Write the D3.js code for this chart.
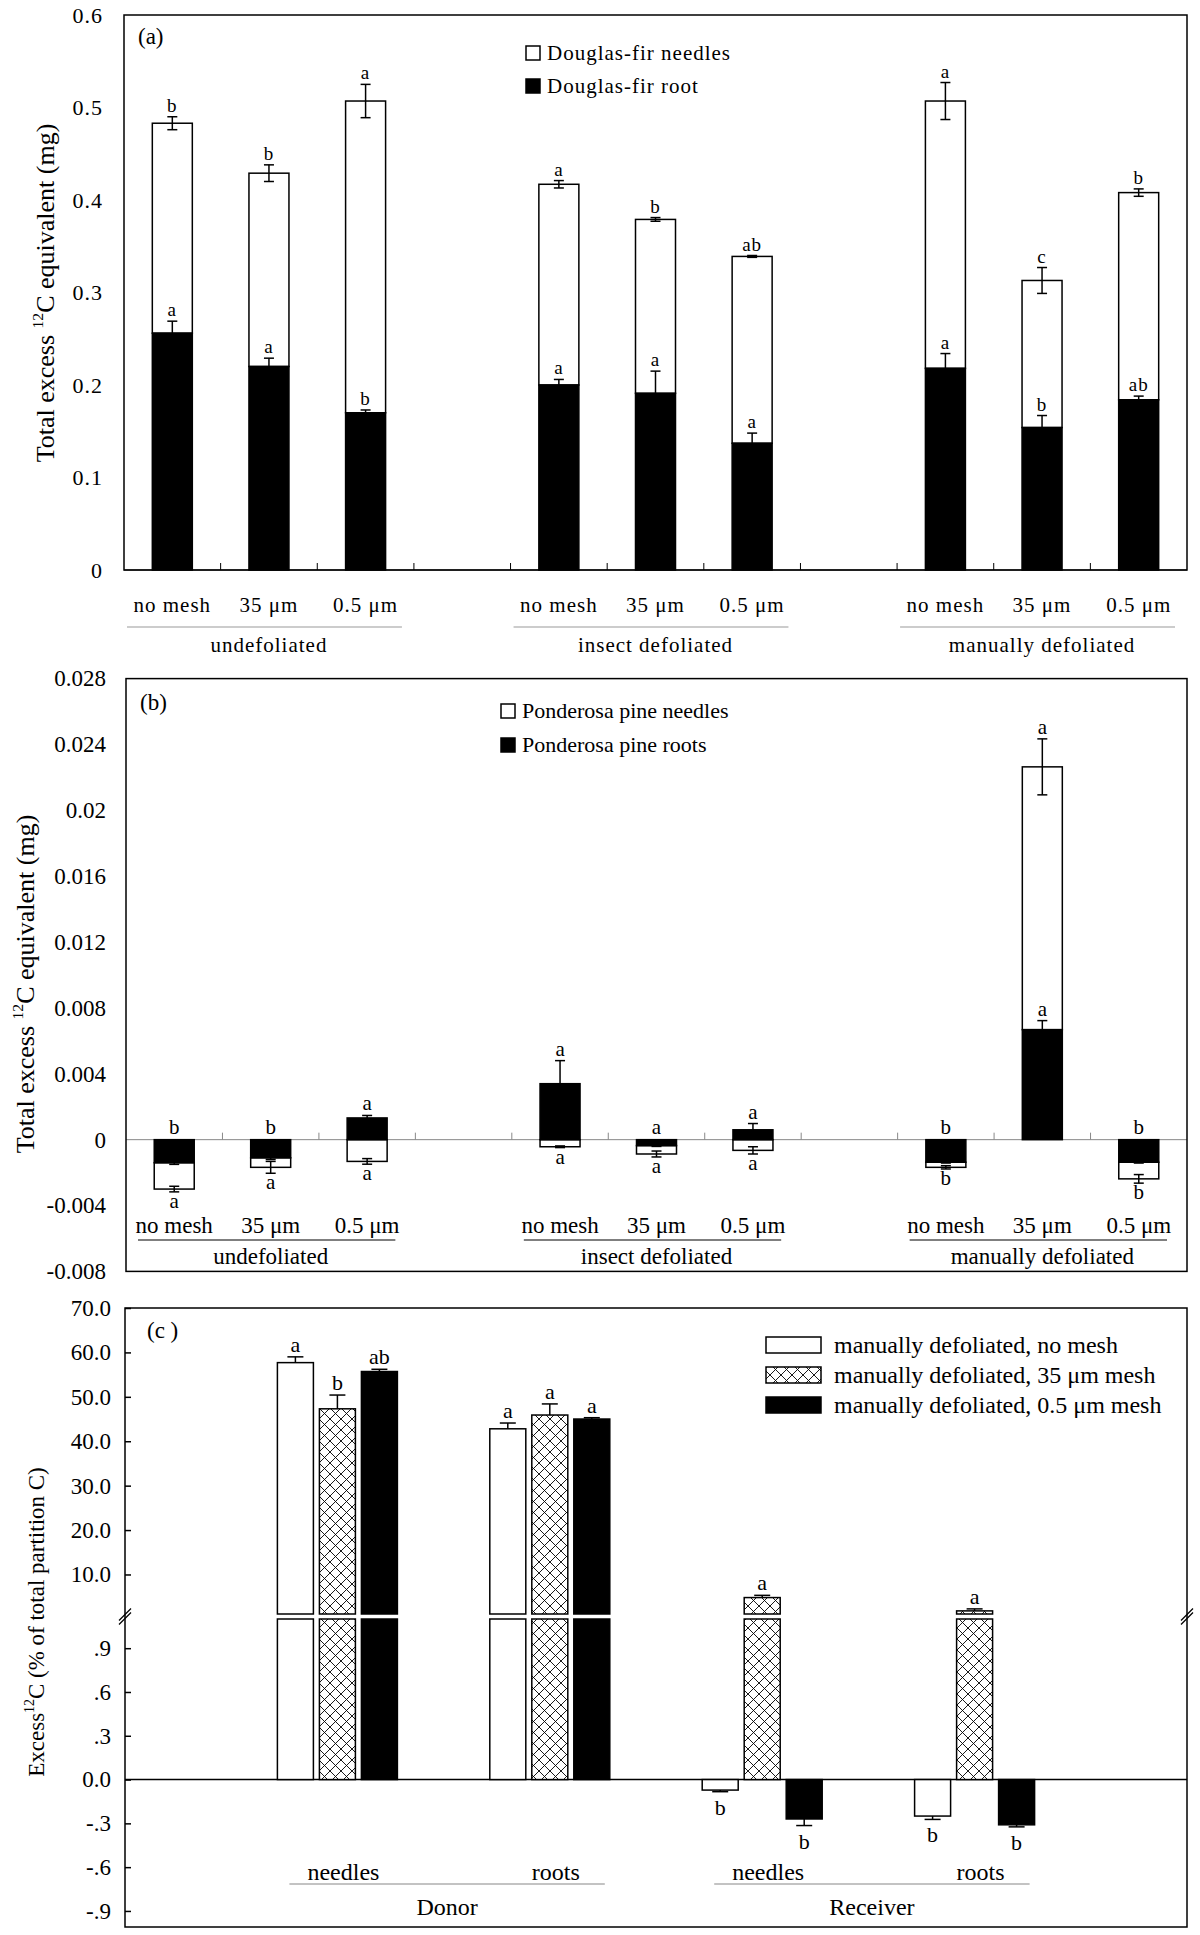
<!DOCTYPE html>
<html>
<head>
<meta charset="utf-8">
<script src="https://cdn.jsdelivr.net/npm/d3@7"></script>
<style>
body{margin:0;background:#fff;}
svg{display:block;}
text{font-family:"Liberation Serif","Times New Roman",serif;fill:#000;}
</style>
</head>
<body>
<div id="chart"></div>
<script>
// --- --- Data --- ---

var treatments = ["undefoliated", "insect defoliated", "manually defoliated"];
var meshes = ["no mesh", "35 μm", "0.5 μm"];

// (a) Douglas-fir, mg (9 bars: undefoliated x3, insect x3, manual x3)
var fir_root = [0.256, 0.220, 0.170, 0.200, 0.191, 0.137, 0.218, 0.154, 0.184];
var fir_root_err = [0.013, 0.009, 0.003, 0.006, 0.024, 0.011, 0.016, 0.013, 0.004];
var fir_needles = [0.227, 0.209, 0.337, 0.217, 0.188, 0.202, 0.289, 0.159, 0.224];
var fir_needles_err = [0.007, 0.009, 0.018, 0.004, 0.002, 0.001, 0.020, 0.014, 0.004];
var fir_root_letters = ["a", "a", "b", "a", "a", "a", "a", "b", "ab"];
var fir_needles_letters = ["b", "b", "a", "a", "b", "ab", "a", "c", "b"];
var ticksA = [0, 0.1, 0.2, 0.3, 0.4, 0.5, 0.6];
var tickLabelsA = ["0", "0.1", "0.2", "0.3", "0.4", "0.5", "0.6"];

// (b) Ponderosa pine, mg
var pine_root = [-0.0014, -0.0011, 0.00132, 0.0034, -0.00036, 0.0006, -0.00137, 0.00668, -0.00137];
var pine_root_err = [0.0001, 0.0001, 0.00015, 0.0014, 0.00005, 0.00038, 0.00005, 0.00055, 0.00005];
var pine_needles = [-0.0016, -0.00058, -0.00132, -0.00043, -0.00051, -0.00065, -0.00031, 0.01596, -0.00101];
var pine_needles_err = [0.00017, 0.00036, 0.00017, 0.00005, 0.00018, 0.00022, 0.0001, 0.0017, 0.00026];
var pine_root_letters = ["b", "b", "a", "a", "a", "a", "b", "a", "b"];
var pine_needles_letters = ["a", "a", "a", "a", "a", "a", "b", "a", "b"];
var ticksB = [-0.008, -0.004, 0, 0.004, 0.008, 0.012, 0.016, 0.02, 0.024, 0.028];
var tickLabelsB = ["-0.008", "-0.004", "0", "0.004", "0.008", "0.012", "0.016", "0.02", "0.024", "0.028"];

// (c) % of total partition C
var sides = ["Donor", "Receiver"];
var parts = ["needles", "roots", "needles", "roots"];
var seriesC = ["manually defoliated, no mesh", "manually defoliated, 35 μm mesh", "manually defoliated, 0.5 μm mesh"];
var pct_nomesh = [57.7, 42.8, -0.072, -0.25];
var pct_nomesh_err = [1.3, 1.3, 0.011, 0.023];
var pct_35 = [47.3, 45.9, 4.8, 1.8];
var pct_35_err = [3.1, 2.5, 0.5, 0.45];
var pct_05 = [55.7, 45.0, -0.27, -0.31];
var pct_05_err = [0.5, 0.3, 0.045, 0.014];
var letters_nomesh = ["a", "a", "b", "b"];
var letters_35 = ["b", "a", "a", "a"];
var letters_05 = ["ab", "a", "b", "b"];
var ticksC_upper = [10, 20, 30, 40, 50, 60, 70];
var tickLabelsC_upper = ["10.0", "20.0", "30.0", "40.0", "50.0", "60.0", "70.0"];
var ticksC_lower = [-0.9, -0.6, -0.3, 0, 0.3, 0.6, 0.9];
var tickLabelsC_lower = ["-.9", "-.6", "-.3", "0.0", ".3", ".6", ".9"];
var axisBreak = 1.1;

// --- --- Setup --- ---

var width = 1200;
var height = 1935;
var svg = d3.select("#chart").append("svg").attr("width", width).attr("height", height);
svg.append("rect").attr("width", width).attr("height", height).attr("fill", "#fff");

var defs = svg.append("defs");
var pat = defs.append("pattern").attr("id", "xhatch").attr("patternUnits", "userSpaceOnUse")
    .attr("width", 11).attr("height", 11);
pat.append("rect").attr("width", 11).attr("height", 11).attr("fill", "#fff");
pat.append("path").attr("d", "M0,0L11,11M11,0L0,11").attr("stroke", "#000").attr("stroke-width", 0.9);

// slot keys: 3 bars per treatment and an empty slot between treatments
var slotKeys = [];
treatments.forEach(function(t, ti){
    if (ti > 0) { slotKeys.push("gap" + ti); }
    meshes.forEach(function(m){ slotKeys.push(t + "|" + m); });
});
var barKeys = slotKeys.filter(function(k){ return k.indexOf("|") > 0; });

// --- rotated y title with superscript 12 ---
function yTitle(x, y, size, pre, post){
    var t = svg.append("text").attr("transform", "translate(" + x + "," + y + ") rotate(-90)")
        .attr("text-anchor", "middle").attr("font-size", size);
    t.append("tspan").text(pre);
    t.append("tspan").attr("dy", -size * 0.42).attr("font-size", size * 0.6).text("12");
    t.append("tspan").attr("dy", size * 0.42).text(post);
}

function styleAxis(g, size){
    g.attr("font-family", '"Liberation Serif","Times New Roman",serif').attr("font-size", size);
    g.selectAll("text").attr("fill", "#000");
    g.select(".domain").remove();
}

// --- stacked panel used by (a) and (b) ---
function stackedPanel(o){
    var x = d3.scaleBand().domain(slotKeys).range([o.left, o.right]);
    var y = d3.scaleLinear().domain(o.domain).range([o.bottom, o.top]);
    var bw = 40;
    var g = svg.append("g");

    var rows = barKeys.map(function(k, i){
        return {key: k, root: o.root[i], needles: o.needles[i]};
    });
    var stack = d3.stack().keys(["root", "needles"]).offset(d3.stackOffsetDiverging)(rows);
    var errs = [o.rootErr, o.needlesErr];
    var fills = ["#000", "#fff"];

    // zero line and tick marks between the slots
    g.append("line").attr("x1", o.left).attr("x2", o.right).attr("y1", y(0)).attr("y2", y(0))
        .attr("stroke", o.zeroColor).attr("stroke-width", 1);
    slotKeys.slice(1).forEach(function(k){
        g.append("line").attr("x1", x(k)).attr("x2", x(k)).attr("y1", y(0)).attr("y2", y(0) - 7)
            .attr("stroke", o.zeroColor).attr("stroke-width", 1);
    });

    // bars, needles first then roots
    [1, 0].forEach(function(s){
        g.selectAll(null).data(stack[s]).enter().append("rect")
            .attr("x", function(d){ return x(d.data.key) + (x.bandwidth() - bw) / 2; })
            .attr("y", function(d){ return y(Math.max(d[0], d[1])); })
            .attr("width", bw)
            .attr("height", function(d){ return Math.abs(y(d[0]) - y(d[1])); })
            .attr("fill", fills[s]).attr("stroke", "#000").attr("stroke-width", 1.5);
    });

    // error bars at the outer end of each segment
    [0, 1].forEach(function(s){
        stack[s].forEach(function(d, i){
            var v = d.data[s == 0 ? "root" : "needles"];
            var end = v >= 0 ? d[1] : d[0];
            var e = errs[s][i];
            var cx = x(d.data.key) + x.bandwidth() / 2;
            g.append("line").attr("x1", cx).attr("x2", cx).attr("y1", y(end - e)).attr("y2", y(end + e))
                .attr("stroke", "#000").attr("stroke-width", 1.5);
            [end - e, end + e].forEach(function(c){
                g.append("line").attr("x1", cx - 5).attr("x2", cx + 5).attr("y1", y(c)).attr("y2", y(c))
                    .attr("stroke", "#000").attr("stroke-width", 1.5);
            });
        });
    });

    // significance letters
    stack[0].forEach(function(d, i){
        var cx = x(d.data.key) + x.bandwidth() / 2;
        var ly = o.root[i] >= 0 ? y(d[1] + o.rootErr[i]) - 5 : y(0) - 6;
        g.append("text").attr("x", cx).attr("y", ly).attr("text-anchor", "middle")
            .attr("font-size", o.letterSize).attr("letter-spacing", o.spacing).text(o.rootLetters[i]);
    });
    stack[1].forEach(function(d, i){
        var cx = x(d.data.key) + x.bandwidth() / 2;
        var ly = o.needles[i] >= 0 ? y(d[1] + o.needlesErr[i]) - 5 : y(d[0] - o.needlesErr[i]) + 16;
        g.append("text").attr("x", cx).attr("y", ly).attr("text-anchor", "middle")
            .attr("font-size", o.letterSize).attr("letter-spacing", o.spacing).text(o.needlesLetters[i]);
    });

    // frame
    g.append("rect").attr("x", o.left).attr("y", o.top).attr("width", o.right - o.left)
        .attr("height", o.bottom - o.top).attr("fill", "none").attr("stroke", "#000").attr("stroke-width", 1.5);

    // y axis
    var ax = g.append("g").attr("transform", "translate(" + o.left + ",0)")
        .call(d3.axisLeft(y).tickValues(o.ticks).tickSize(0).tickPadding(o.tickPad)
            .tickFormat(function(d, i){ return o.tickLabels[i]; }));
    styleAxis(ax, o.tickSize);
    ax.selectAll("text").attr("letter-spacing", o.spacing);

    // category labels and treatment groups
    barKeys.forEach(function(k, i){
        g.append("text").attr("x", x(k) + x.bandwidth() / 2).attr("y", o.catY)
            .attr("text-anchor", "middle").attr("font-size", o.catSize).attr("letter-spacing", o.spacing)
            .text(meshes[i % 3]);
    });
    treatments.forEach(function(t){
        var x0 = x(t + "|" + meshes[0]);
        var x1 = x(t + "|" + meshes[2]) + x.bandwidth();
        g.append("line").attr("x1", x0 + o.lineIn[0]).attr("x2", x1 - o.lineIn[1])
            .attr("y1", o.lineY).attr("y2", o.lineY).attr("stroke", o.lineColor).attr("stroke-width", 1.2);
        g.append("text").attr("x", (x0 + x1) / 2).attr("y", o.groupY).attr("text-anchor", "middle")
            .attr("font-size", o.catSize).attr("letter-spacing", o.spacing).text(t);
    });

    // legend
    o.legend.forEach(function(name, i){
        var ly = o.legendY + i * o.legendStep;
        g.append("rect").attr("x", o.legendX).attr("y", ly - 7).attr("width", 14).attr("height", 14)
            .attr("fill", fills[1 - i]).attr("stroke", "#000").attr("stroke-width", 1.5);
        g.append("text").attr("x", o.legendX + 21).attr("y", ly + 7).attr("font-size", o.legendSize)
            .attr("letter-spacing", o.spacing).text(name);
    });

    g.append("text").attr("x", o.left + 14).attr("y", o.top + o.tagDy).attr("font-size", 23).text(o.tag);
}

// --- --- Panel (a) --- ---
stackedPanel({
    left: 124, right: 1187, top: 15, bottom: 570, domain: [0, 0.6],
    root: fir_root, rootErr: fir_root_err, needles: fir_needles, needlesErr: fir_needles_err,
    rootLetters: fir_root_letters, needlesLetters: fir_needles_letters,
    ticks: ticksA, tickLabels: tickLabelsA, tickPad: 21, tickSize: 22,
    zeroColor: "#000", letterSize: 19, spacing: 1,
    catY: 612, catSize: 21, lineY: 627, lineColor: "#999", lineIn: [3, 12], groupY: 652,
    legend: ["Douglas-fir needles", "Douglas-fir root"], legendX: 526, legendY: 53, legendStep: 33, legendSize: 21,
    tag: "(a)", tagDy: 29
});
yTitle(54, 293, 26, "Total excess ", "C equivalent (mg)");

// --- --- Panel (b) --- ---
stackedPanel({
    left: 126, right: 1187, top: 678.6, bottom: 1271.4, domain: [-0.008, 0.028],
    root: pine_root, rootErr: pine_root_err, needles: pine_needles, needlesErr: pine_needles_err,
    rootLetters: pine_root_letters, needlesLetters: pine_needles_letters,
    ticks: ticksB, tickLabels: tickLabelsB, tickPad: 20, tickSize: 23,
    zeroColor: "#888", letterSize: 21, spacing: 0,
    catY: 1233, catSize: 23, lineY: 1240, lineColor: "#000", lineIn: [12, 20], groupY: 1264,
    legend: ["Ponderosa pine needles", "Ponderosa pine roots"], legendX: 501, legendY: 711, legendStep: 34, legendSize: 22,
    tag: "(b)", tagDy: 31
});
yTitle(34, 984, 26, "Total excess ", "C equivalent (mg)");

// --- --- Panel (c) with broken y axis --- ---
var leftC = 125, rightC = 1187, topC = 1308, bottomC = 1927;
var xC = d3.scaleLinear().domain([0, 5]).range([leftC, rightC]);
var yUp = d3.scaleLinear().domain([axisBreak, 70]).range([1614, topC]);
var yLow = d3.scaleLinear().domain([-1.01, axisBreak]).range([bottomC, 1619]);
function yC(v){ return v > axisBreak ? yUp(v) : yLow(v); }

var gC = svg.append("g");
var valsC = [pct_nomesh, pct_35, pct_05];
var errsC = [pct_nomesh_err, pct_35_err, pct_05_err];
var lettersC = [letters_nomesh, letters_35, letters_05];
var fillsC = ["#fff", "url(#xhatch)", "#000"];
var bwC = 36, stepC = 42;

gC.append("line").attr("x1", leftC).attr("x2", rightC).attr("y1", yLow(0)).attr("y2", yLow(0))
    .attr("stroke", "#000").attr("stroke-width", 1.5);

function barC(x0, v0, v1, fill){
    gC.append("rect").attr("x", x0).attr("y", yC(Math.max(v0, v1)))
        .attr("width", bwC).attr("height", Math.abs(yC(v0) - yC(v1)))
        .attr("fill", fill).attr("stroke", "#000").attr("stroke-width", 1.5);
}

valsC.forEach(function(vals, j){
    vals.forEach(function(v, i){
        var cx = xC(i + 1) + (j - 1) * stepC;
        var x0 = cx - bwC / 2;
        if (v > axisBreak) {
            barC(x0, 0, axisBreak, fillsC[j]);
            barC(x0, axisBreak + 0.0001, v, fillsC[j]);
        } else {
            barC(x0, 0, v, fillsC[j]);
        }
        var e = errsC[j][i];
        var tip = v >= 0 ? v + e : v - e;
        gC.append("line").attr("x1", cx).attr("x2", cx).attr("y1", yC(v)).attr("y2", yC(tip))
            .attr("stroke", "#000").attr("stroke-width", 1.5);
        gC.append("line").attr("x1", cx - 8).attr("x2", cx + 8).attr("y1", yC(tip)).attr("y2", yC(tip))
            .attr("stroke", "#000").attr("stroke-width", 1.5);
        gC.append("text").attr("x", cx).attr("y", v >= 0 ? yC(tip) - 5 : yC(tip) + 23)
            .attr("text-anchor", "middle").attr("font-size", 22).text(lettersC[j][i]);
    });
});

// frame and axes
gC.append("rect").attr("x", leftC).attr("y", topC).attr("width", rightC - leftC).attr("height", bottomC - topC)
    .attr("fill", "none").attr("stroke", "#000").attr("stroke-width", 1.5);
var axU = gC.append("g").attr("transform", "translate(" + leftC + ",0)")
    .call(d3.axisLeft(yUp).tickValues(ticksC_upper).tickSizeInner(-6).tickSizeOuter(0).tickPadding(14)
        .tickFormat(function(d, i){ return tickLabelsC_upper[i]; }));
styleAxis(axU, 23);
axU.selectAll("line").attr("stroke-width", 1.5);
var axL = gC.append("g").attr("transform", "translate(" + leftC + ",0)")
    .call(d3.axisLeft(yLow).tickValues(ticksC_lower).tickSizeInner(-6).tickSizeOuter(0).tickPadding(14)
        .tickFormat(function(d, i){ return tickLabelsC_lower[i]; }));
styleAxis(axL, 23);
axL.selectAll("line").attr("stroke-width", 1.5);

// break marks on both sides
[leftC, rightC].forEach(function(bx){
    [-2, 2].forEach(function(off){
        var by = (yUp(axisBreak) + yLow(axisBreak)) / 2 + off;
        gC.append("line").attr("x1", bx - 6).attr("x2", bx + 6).attr("y1", by + 6).attr("y2", by - 6)
            .attr("stroke", "#000").attr("stroke-width", 1.3);
    });
});

// category labels
parts.forEach(function(p, i){
    gC.append("text").attr("x", xC(i + 1) + 6).attr("y", 1880).attr("text-anchor", "middle")
        .attr("font-size", 24).text(p);
});
sides.forEach(function(s, k){
    var x0 = xC(2 * k + 1) - 48, x1 = xC(2 * k + 2) + 55;
    gC.append("line").attr("x1", x0).attr("x2", x1).attr("y1", 1884).attr("y2", 1884)
        .attr("stroke", "#888").attr("stroke-width", 1.2);
    gC.append("text").attr("x", (x0 + x1) / 2).attr("y", 1915).attr("text-anchor", "middle")
        .attr("font-size", 24).text(s);
});

// legend
seriesC.forEach(function(name, j){
    var ly = 1345 + j * 30;
    gC.append("rect").attr("x", 766).attr("y", ly - 8).attr("width", 55).attr("height", 16)
        .attr("fill", fillsC[j]).attr("stroke", "#000").attr("stroke-width", 1.5);
    gC.append("text").attr("x", 834).attr("y", ly + 8).attr("font-size", 24).text(name);
});

gC.append("text").attr("x", 147).attr("y", 1338).attr("font-size", 23).text("(c )");
yTitle(44, 1622, 23, "Excess", "C (% of total partition C)");
</script>
</body>
</html>
